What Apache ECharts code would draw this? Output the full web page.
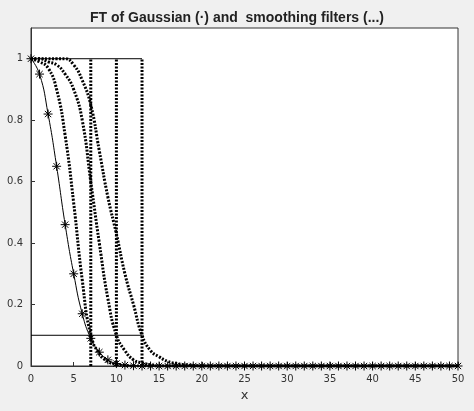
<!DOCTYPE html>
<html><head><meta charset="utf-8">
<script src="https://cdn.jsdelivr.net/npm/echarts@6/dist/echarts.min.js"></script>
<style>html,body{margin:0;background:#f0f0f0}#c{width:474px;height:411px}</style>
</head><body><div id="c"></div>
<script>
var gaussX = [];
for (var i = 0; i <= 50; i++) gaussX.push(i);
var gaussY = [1, 0.95, 0.82, 0.65, 0.46, 0.30, 0.17, 0.09, 0.045, 0.02, 0.008, 0.003, 0.001];
var filt7 = [1, 0.99, 0.97, 0.9, 0.75, 0.53, 0.28, 0.1, 0.04, 0.015, 0.005, 0.002, 0];
var filt10 = [1, 1, 0.99, 0.98, 0.95, 0.9, 0.8, 0.6, 0.4, 0.22, 0.1, 0.05, 0.02, 0.01, 0.004, 0];
var filt13 = [1, 1, 1, 1, 1, 0.98, 0.93, 0.85, 0.7, 0.55, 0.43, 0.3, 0.2, 0.1, 0.05, 0.03, 0.015, 0.008, 0.004, 0.002, 0];
var cutoffs = [7, 10, 13];

function pts(arr) {
    var out = [];
    for (var i = 0; i <= 50; i++) out.push([i, i < arr.length ? arr[i] : 0]);
    return out;
}
var dotStyle = { color: '#000', width: 3, type: [2, 1.5] };
var series = [{
    type: 'line', data: gaussX.map(function (x) { return [x, x < gaussY.length ? gaussY[x] : 0]; }),
    symbol: 'path://M0,-5L0,5M-5,0L5,0M-3.5,-3.5L3.5,3.5M-3.5,3.5L3.5,-3.5', symbolSize: 9,
    itemStyle: { color: 'none', borderColor: '#000', borderWidth: 1 },
    smooth: true, lineStyle: { color: '#000', width: 1 }, z: 5
}];
[filt7, filt10, filt13].forEach(function (f) {
    series.push({ type: 'line', data: pts(f), showSymbol: false, smooth: true, lineStyle: dotStyle });
});
cutoffs.forEach(function (c) {
    series.push({ type: 'line', data: [[c, 0], [c, 1]], showSymbol: false, lineStyle: dotStyle });
});
series.push({ type: 'line', data: [[0, 1], [13, 1]], showSymbol: false, lineStyle: { color: '#000', width: 1 } });
series.push({ type: 'line', data: [[0, 0.1], [13, 0.1]], showSymbol: false, lineStyle: { color: '#000', width: 1 } });

var chart = echarts.init(document.getElementById('c'));
chart.setOption({
    backgroundColor: '#f0f0f0',
    animation: false,
    title: { text: 'FT of Gaussian (·) and  smoothing filters (...)', left: 'center', top: 6,
        textStyle: { fontFamily: 'Liberation Sans', fontSize: 14, fontWeight: 'bold', color: '#222' } },
    grid: { left: 31, right: 16, top: 28, bottom: 45, backgroundColor: '#fff', show: true, borderColor: '#333', borderWidth: 1 },
    xAxis: { type: 'value', min: 0, max: 50, interval: 5, name: 'x', nameLocation: 'middle', nameGap: 22,
        nameTextStyle: { fontSize: 13, color: '#333', fontFamily: 'DejaVu Sans' },
        axisLine: { lineStyle: { color: '#333' } }, axisTick: { inside: true, length: 4, lineStyle: { color: '#333' } },
        axisLabel: { color: '#333', fontSize: 10, fontFamily: 'DejaVu Sans' }, splitLine: { show: false } },
    yAxis: { type: 'value', min: 0, max: 1.1, interval: 0.2,
        axisLine: { show: true, lineStyle: { color: '#333' } }, axisTick: { show: true, inside: true, length: 4, lineStyle: { color: '#333' } },
        axisLabel: { color: '#333', fontSize: 10, fontFamily: 'DejaVu Sans', showMaxLabel: false,
            formatter: function (v) { return Math.abs(v - 1.1) < 1e-6 ? '' : +v.toFixed(1); } },
        splitLine: { show: false } },
    series: series
});
</script></body></html>
